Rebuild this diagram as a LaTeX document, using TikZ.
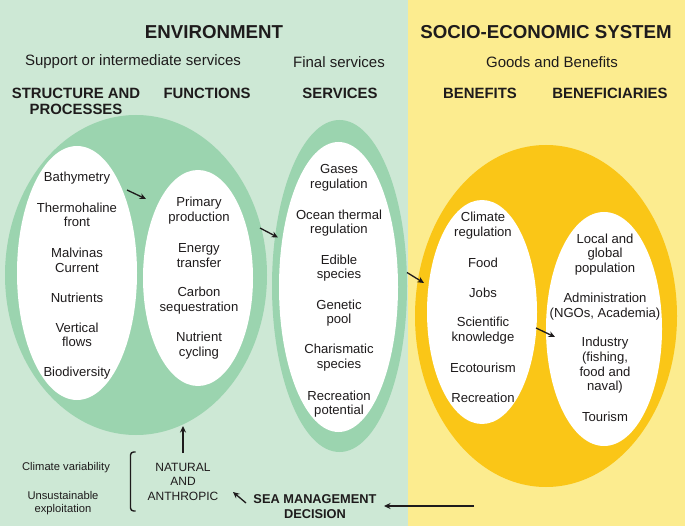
\documentclass[tikz,border=0pt]{standalone}
\usepackage{fontspec}
\setmainfont{Liberation Sans}
\usetikzlibrary{arrows.meta,shapes.geometric}
\definecolor{bggreen}{HTML}{CDE8D5}
\definecolor{elgreen}{HTML}{9BD4AF}
\definecolor{bgyellow}{HTML}{FCEC8F}
\definecolor{elorange}{HTML}{FAC617}
\definecolor{ink}{HTML}{1E1B1C}
\begin{document}
\begin{tikzpicture}[x=1pt,y=-1pt,
  blob/.style={ellipse, inner sep=0pt, draw=none},
  txt/.style={font=\fontsize{13.1}{14.6}\selectfont, align=center, text=ink, inner sep=0pt},
  title/.style={font=\fontsize{18.7}{20}\selectfont\bfseries, text=ink, inner sep=0pt},
  sub/.style={font=\fontsize{15}{16}\selectfont, text=ink, inner sep=0pt},
  head/.style={font=\fontsize{14.9}{16.5}\selectfont\bfseries, align=center, text=ink, inner sep=0pt},
  small/.style={font=\fontsize{11.2}{12.8}\selectfont, align=center, text=ink, inner sep=0pt},
  arr/.style={-{Stealth[length=6.5pt,width=6pt]}, line width=1.3pt, draw=ink}]
\useasboundingbox (0,0) rectangle (685,526);
% panels
\fill[bggreen] (0,0) rectangle (408,526);
\fill[bgyellow] (408,0) rectangle (685,526);
% ellipses
\node[blob, fill=elgreen, minimum width=262pt, minimum height=320pt] (envbig) at (136,275) {};
\node[blob, fill=white, minimum width=120pt, minimum height=254pt] (struct) at (77,273) {};
\node[blob, fill=white, minimum width=110pt, minimum height=216pt] (func) at (198,278) {};
\node[blob, fill=elgreen, minimum width=135pt, minimum height=332pt] (servout) at (339.5,286) {};
\node[blob, fill=white, minimum width=119pt, minimum height=290pt] (serv) at (338.5,287) {};
\node[blob, fill=elorange, minimum width=262pt, minimum height=342pt] (socbig) at (546,316) {};
\node[blob, fill=white, minimum width=110pt, minimum height=224pt] (ben) at (482,312) {};
\node[blob, fill=white, minimum width=116pt, minimum height=234pt] (benef) at (604,329) {};
% titles
\node[title] (tenv) at (214,32) {ENVIRONMENT};
\node[title] (tsoc) at (546,32) {SOCIO-ECONOMIC SYSTEM};
\node[sub] (ssup) at (133,62) {Support or intermediate services};
\node[sub] (sfin) at (339,62) {Final services};
\node[sub] (sgood) at (552,62) {Goods and Benefits};
\node[head] (hstr) at (76,101.5) {STRUCTURE AND\\PROCESSES};
\node[head] (hfun) at (207,93) {FUNCTIONS};
\node[head] (hser) at (340,93) {SERVICES};
\node[head] (hben) at (480,93) {BENEFITS};
\node[head] (hbny) at (610,93) {BENEFICIARIES};
% structure items
\node[txt] (s1) at (77,178) {Bathymetry};
\node[txt] (s2) at (77,215) {Thermohaline\\front};
\node[txt] (s3) at (77,260.5) {Malvinas\\Current};
\node[txt] (s4) at (77,298) {Nutrients};
\node[txt] (s5) at (77,335) {Vertical\\flows};
\node[txt] (s6) at (77,373) {Biodiversity};
% functions
\node[txt] (f1) at (199,210.5) {Primary\\production};
\node[txt] (f2) at (199,255.5) {Energy\\transfer};
\node[txt] (f3) at (199,300.5) {Carbon\\sequestration};
\node[txt] (f4) at (199,345.5) {Nutrient\\cycling};
% services
\node[txt] (v1) at (339,177.5) {Gases\\regulation};
\node[txt] (v2) at (339,223) {Ocean thermal\\regulation};
\node[txt] (v3) at (339,268) {Edible\\species};
\node[txt] (v4) at (339,313) {Genetic\\pool};
\node[txt] (v5) at (339,357.5) {Charismatic\\species};
\node[txt] (v6) at (339,404) {Recreation\\potential};
% benefits
\node[txt] (b1) at (483,225.5) {Climate\\regulation};
\node[txt] (b2) at (483,263) {Food};
\node[txt] (b3) at (483,293) {Jobs};
\node[txt] (b4) at (483,330.5) {Scientific\\knowledge};
\node[txt] (b5) at (483,368) {Ecotourism};
\node[txt] (b6) at (483,398) {Recreation};
% beneficiaries
\node[txt] (n1) at (605,254.5) {Local and\\global\\population};
\node[txt] (n2) at (605,306.5) {Administration\\(NGOs, Academia)};
\node[txt] (n3) at (605,365.5) {Industry\\(fishing,\\food and\\naval)};
\node[txt] (n4) at (605,417) {Tourism};
% bottom texts
\node[small] (cv) at (66,468) {Climate variability};
\node[small] (ue) at (63,503.5) {Unsustainable\\exploitation};
\node[font=\fontsize{12}{14.5}\selectfont, align=center, text=ink, inner sep=0pt] (nat) at (183,481.5) {NATURAL\\AND\\ANTHROPIC};
\node[font=\fontsize{12.8}{15}\selectfont\bfseries, align=center, text=ink, inner sep=0pt] (sea) at (315,507) {SEA MANAGEMENT\\DECISION};
% bracket
\draw[line width=1.4pt, draw=ink, rounded corners=3pt] (135.5,452) -- (130.5,452) -- (130.5,511) -- (135.5,511);
% arrow coordinates
\coordinate (a1s) at (127,190); \coordinate (a1e) at (146,199);
\coordinate (a2s) at (260,228); \coordinate (a2e) at (278,237.5);
\coordinate (a3s) at (407,272.5); \coordinate (a3e) at (424,283);
\coordinate (a4s) at (536,328); \coordinate (a4e) at (555,337);
\coordinate (a5s) at (183,453); \coordinate (a5e) at (183,426);
\coordinate (a6s) at (246,503); \coordinate (a6e) at (233,492);
\coordinate (a7s) at (474,506); \coordinate (a7e) at (384,506);
\draw[arr] (a1s) -- (a1e);
\draw[arr] (a2s) -- (a2e);
\draw[arr] (a3s) -- (a3e);
\draw[arr] (a4s) -- (a4e);
\draw[arr] (a5s) -- (a5e);
\draw[arr] (a6s) -- (a6e);
\draw[arr] (a7s) -- (a7e);
\end{tikzpicture}
\end{document}
